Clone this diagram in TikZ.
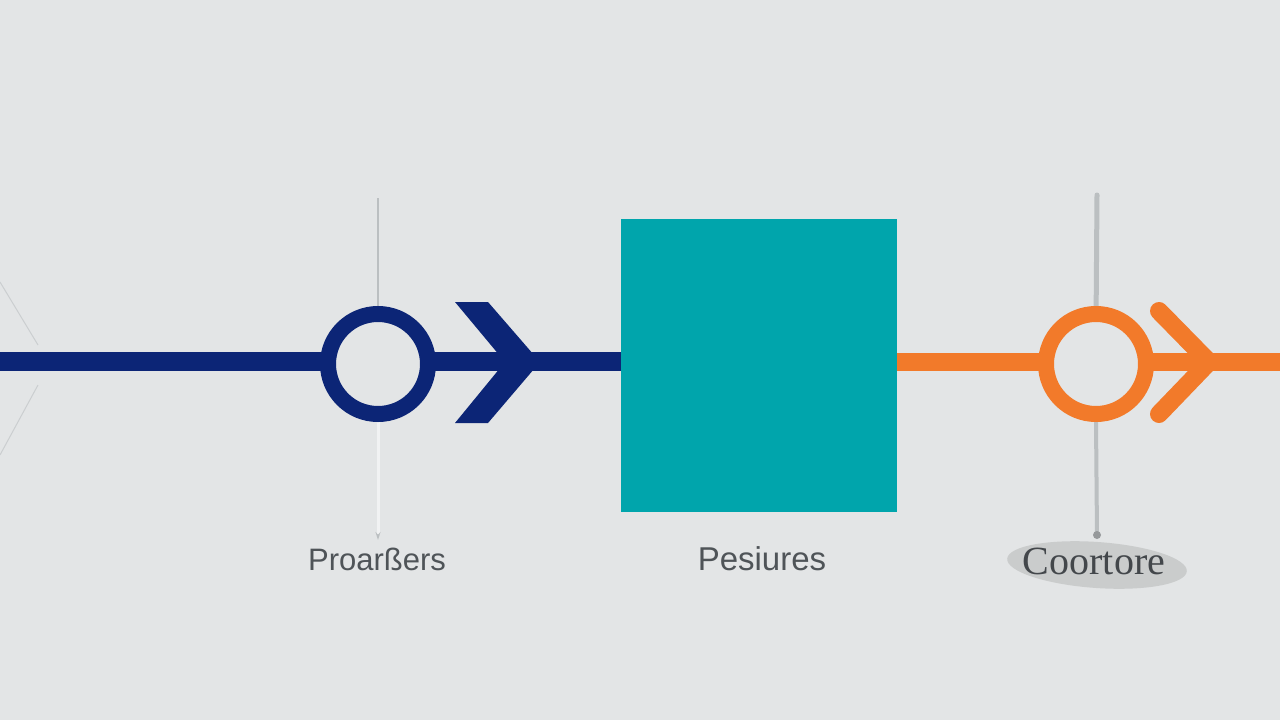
\documentclass[tikz,border=0pt]{standalone}
\usepackage{fontspec}
\setmainfont{Liberation Sans}
\newfontfamily\serifface{Liberation Serif}
\usetikzlibrary{arrows.meta}
\definecolor{bgc}{HTML}{E3E5E6}
\definecolor{navyc}{HTML}{0C2576}
\definecolor{tealc}{HTML}{00A5AC}
\definecolor{orangec}{HTML}{F27A2A}
\definecolor{txtc}{HTML}{4F5458}
\definecolor{guidec}{HTML}{BBBFC1}
\definecolor{shadowc}{HTML}{CACCCC}
\pgfdeclarelayer{bglayer}
\pgfdeclarelayer{linelayer}
\pgfsetlayers{bglayer,linelayer,main}
\tikzset{
  ring/.style={circle, fill=bgc, line width=16pt, minimum size=100pt, inner sep=0pt},
  mainline/.style={line width=19pt},
  guide/.style={draw=guidec, line width=#1},
  label/.style={text=txtc, font=\fontsize{32}{32}\selectfont, inner sep=0pt},
}
\begin{document}
\begin{tikzpicture}[x=1pt,y=-1pt]
\useasboundingbox (0,0) rectangle (1280,720);
\begin{pgfonlayer}{bglayer}
  \fill[bgc] (0,0) rectangle (1280,720);
  % faint diagonal strokes at the left edge
  \draw[guidec!60!bgc, line width=1pt] (0,282) -- (38,345);
  \draw[guidec!60!bgc, line width=1pt] (38,385) -- (0,455);
\end{pgfonlayer}

% nodes
\node[ring, draw=navyc] (c1) at (378,364) {};
\node[ring, draw=orangec] (c2) at (1096,364) {};
\node[fill=tealc, minimum width=276pt, minimum height=293pt, inner sep=0pt, outer sep=0pt] (sq) at (759,365.5) {};
\coordinate (lstart) at (0,361);
\coordinate (rend) at (1280,362);

\node[label, font=\fontsize{31}{31}\selectfont] (t1) at (377,559) {Proarßers};
\node[label, font=\fontsize{33}{33}\selectfont] (t2) at (762,559) {Pesiures};
\fill[shadowc, rotate around={-4:(1097,565)}] (1097,565) ellipse [x radius=90pt, y radius=23pt];
\node[label, text=txtc!85!black, font=\serifface\fontsize{40}{40}\selectfont] (t3) at (1094,561) {Coortore};

% top/bottom guide endpoints
\coordinate (g1top) at (378,198);
\coordinate (g1bot) at (378,540);
\coordinate (g2top) at (1097,195);
\coordinate (g2bot) at (1097,535);

\begin{pgfonlayer}{linelayer}
  \draw[navyc, mainline] (lstart) -- (sq.west |- lstart);
  \draw[orangec, line width=18pt] (sq.east |- rend) -- (rend);
  \draw[guide=1.5pt] (g1top) -- (c1.north);
  \draw[white!80!guidec, line width=3pt, -{Stealth[length=8pt,width=5pt,color=guidec]}] (c1.south) -- (g1bot);
  \draw[guide=5pt, line cap=round] (g2top) -- ([yshift=-20pt]c2.north);
  \draw[guide=4pt] (c2.south) -- (g2bot);
  \fill[guidec!80!black] (g2bot) circle (4pt);
\end{pgfonlayer}

% chevrons
\fill[navyc] (455,302) -- (488,302) -- (540,362) -- (488,423) -- (455,423) -- (505,362) -- cycle;
\draw[orangec, line width=18pt, line cap=round, line join=miter] (1159,311) -- (1209,362) -- (1159,414);
\end{tikzpicture}
\end{document}
